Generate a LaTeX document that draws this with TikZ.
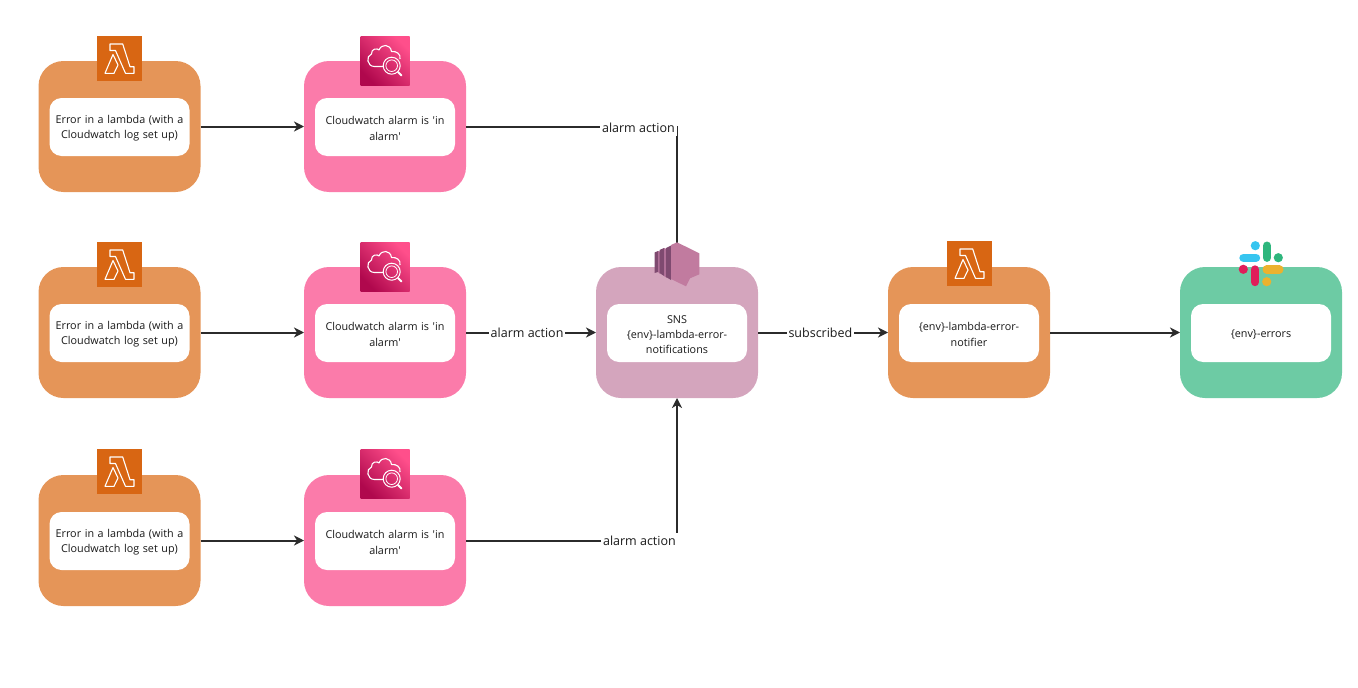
\documentclass[tikz,border=0pt]{standalone}
\usepackage{fontspec}
\newfontfamily\osf{Open Sans}
\usetikzlibrary{arrows.meta}
\definecolor{cLam}{HTML}{E59558}
\definecolor{cCw}{HTML}{FB7BAA}
\definecolor{cSns}{HTML}{D4A5BD}
\definecolor{cSl}{HTML}{6DCBA4}
\definecolor{cLamIcon}{HTML}{D86613}
\definecolor{cLine}{HTML}{2B2B2B}
\definecolor{cCwA}{HTML}{B0084D}
\definecolor{cCwB}{HTML}{FF4F8B}
\definecolor{snsDark}{HTML}{7F4A70}
\definecolor{snsMid}{HTML}{B06F97}
\definecolor{snsFront}{HTML}{C17B9F}
\definecolor{slBlue}{HTML}{36C5F0}
\definecolor{slGreen}{HTML}{2EB67D}
\definecolor{slYellow}{HTML}{ECB22E}
\definecolor{slRed}{HTML}{E01E5A}
\tikzset{
  cardbox/.style={rounded corners=25pt,minimum width=162pt,minimum height=131pt,inner sep=0pt,outer sep=0pt},
  whitebox/.style={fill=white,rounded corners=12pt,minimum width=140pt,minimum height=58pt,inner sep=0pt,outer sep=0pt},
  whitetext/.style={inner sep=0pt,text width=134pt,align=center,font=\fontsize{10.8}{15.2}\osf,text=black!90},
  link/.style={draw=cLine,line width=2pt,-{Stealth[length=10pt,width=10pt,inset=3pt]}},
  plainlink/.style={draw=cLine,line width=2pt},
  lbl/.style={fill=white,inner xsep=2pt,inner ysep=3pt,font=\fontsize{12.5}{14}\osf,text=black!90},
  glyph/.style={draw=white,line width=1.1pt,line join=round,fill=none},
  pill/.style={line width=8.4pt,line cap=round}
}
\newcommand{\card}[5]{%
  \node[cardbox,fill=#4] (#1) at (#2,#3) {};
  \node[whitebox] (#1w) at (#2,#3+0.5) {};
  \node[whitetext] (#1t) at (#2,#3+2) {#5};
}
\newcommand{\lamicon}[3]{%
  \begin{scope}[shift={(#2,#3)}]
    \node[fill=cLamIcon,minimum size=45pt,inner sep=0pt,outer sep=0pt] (#1) at (22.5,22.5) {};
    \draw[glyph] (13,8) -- (25.7,8) -- (33,30.7) -- (37,30.7) -- (37,37.3) -- (28.5,37.3) -- (18.5,14.5) -- (13,14.5) -- cycle;
    \draw[glyph] (16,18.5) -- (8,37.3) -- (17,37.3) -- (21,29) -- cycle;
  \end{scope}}
\newcommand{\cwicon}[3]{%
  \begin{scope}[shift={(#2,#3)}]
    \node[bottom color=cCwA,top color=cCwB,shading angle=-45,minimum size=49pt,inner sep=0pt,outer sep=0pt] (#1) at (24.5,24.5) {};
    \draw[glyph] (22.5,30.5) -- (14,30.5) .. controls (6.5,30.5) and (5,20) .. (11,18) .. controls (10.5,12.5) and (17,12) .. (18.5,14) .. controls (21,7.5) and (30,8) .. (31,15.5) .. controls (36,15) and (40.5,18) .. (39.5,23);
    \draw[draw=white,line width=1pt] (31.2,29.7) circle (8.5);
    \draw[draw=white,line width=.8pt] (31.2,29.7) circle (5.8);
    \draw[draw=white,line width=1.8pt,line cap=round] (37.5,36) -- (41,39.5);
  \end{scope}}
\begin{document}
\begin{tikzpicture}[x=1pt,y=-1pt]
\useasboundingbox (0,0) rectangle (1358,688);
\card{la}{119.5}{126.5}{cLam}{Error in a lambda (with a\\Cloudwatch log set up)}
\card{lb}{119.5}{332.5}{cLam}{Error in a lambda (with a\\Cloudwatch log set up)}
\card{lc}{119.5}{540.5}{cLam}{Error in a lambda (with a\\Cloudwatch log set up)}
\card{ca}{385}{126.5}{cCw}{Cloudwatch alarm is 'in\\alarm'}
\card{cb}{385}{332.5}{cCw}{Cloudwatch alarm is 'in\\alarm'}
\card{cc}{385}{540.5}{cCw}{Cloudwatch alarm is 'in\\alarm'}
\card{sns}{677}{332.5}{cSns}{SNS\\\{env\}-lambda-error-\\notifications}
\card{nf}{969}{332.5}{cLam}{\{env\}-lambda-error-\\notifier}
\card{sl}{1261}{332.5}{cSl}{\{env\}-errors}

\draw[link] (la.east) -- (ca.west);
\draw[link] (lb.east) -- (cb.west);
\draw[link] (lc.east) -- (cc.west);
\draw[plainlink] (ca.east) -| (sns.north);
\draw[link] (cc.east) -| (sns.south);
\draw[link] (cb.east) -- node[lbl,pos=.47] (lab2) {alarm action} (sns.west);
\draw[link] (sns.east) -- node[lbl,pos=.48] (lab4) {subscribed} (nf.west);
\draw[link] (nf.east) -- (sl.west);
\node[lbl,anchor=east] (lab1) at (677,128) {alarm action};
\node[lbl,anchor=east] (lab3) at (678,541) {alarm action};

\lamicon{ia}{97}{36}
\lamicon{ib}{97}{242}
\lamicon{ic}{97}{449}
\lamicon{id}{947}{241}
\cwicon{ja}{360.5}{36}
\cwicon{jb}{360.5}{242}
\cwicon{jc}{360.5}{449}

% SNS icon
\fill[snsDark] (654.5,252.5) -- (658,251) -- (658,272) -- (654.5,273) -- cycle;
\fill[snsMid] (658,251) -- (660,251.5) -- (660,274) -- (658,272) -- cycle;
\fill[snsDark] (659.5,250) -- (664,248) -- (664,276) -- (659.5,273) -- cycle;
\fill[snsMid] (664,248) -- (667,249) -- (667,278) -- (664,276) -- cycle;
\fill[snsDark] (666,248) -- (671,245.5) -- (671,280) -- (666,277) -- cycle;
\fill[snsFront] (671,245) -- (677,242.3) -- (699.3,253.3) -- (699.3,274.3) -- (690,278.3) -- (686,286.3) -- (671,279) -- cycle;

% Slack icon
\draw[pill,slBlue] (1243.5,257.7) -- (1256,257.7);
\fill[slBlue] (1255.3,245.7) circle (4.6);
\draw[pill,slGreen] (1267,245.7) -- (1267,257.7);
\fill[slGreen] (1278.3,257.7) circle (4.6);
\draw[pill,slYellow] (1266.7,269.5) -- (1279.3,269.5);
\fill[slYellow] (1266.7,281.7) circle (4.6);
\draw[pill,slRed] (1255,269.5) -- (1255,282);
\fill[slRed] (1243.3,269.3) circle (4.6);
\end{tikzpicture}
\end{document}
